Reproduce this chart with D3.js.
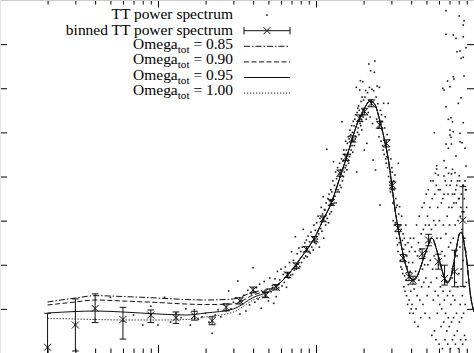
<!DOCTYPE html>
<html>
<head>
<meta charset="utf-8">
<script src="https://cdn.jsdelivr.net/npm/d3@7"></script>
<style>
body { margin: 0; background: #fff; }
svg { display: block; }
</style>
</head>
<body>
<script>
var w = 474;
var h = 353;

// model curves at low l, one per Omega_tot (they meet the common tail at l=60)
var modelLowL = [2, 3, 4, 6, 10, 15, 20, 30, 40, 50];
var om085Low = [1156, 1246, 1299, 1280, 1246, 1212, 1201, 1224, 1380, 1450];
var om090Low = [1088, 1156, 1201, 1178, 1144, 1110, 1099, 1110, 1314, 1428];
var om095Low = [906, 940, 952, 929, 884, 861, 906, 997, 1258, 1394];
var om100Low = [782, 771, 759, 748, 748, 759, 816, 929, 1201, 1360];
// common part of the four models
var tailL = [60, 70, 80, 90, 100, 110, 125, 140, 160, 180,
             200, 220, 235, 250, 270, 290, 300, 310, 320, 330,
             340, 360, 380, 400, 420, 440, 460, 480, 500, 520,
             535, 550, 560, 580, 600, 620, 640, 660, 680, 700,
             720, 740, 760, 780, 800, 815, 830, 850, 870, 900,
             920, 940, 960, 980, 1000];
var tailV = [1609, 1870, 2153, 2402, 2674, 2992, 3399, 3921, 4555, 5144,
             5507, 5711, 5643, 5348, 4860, 4280, 3880, 3480, 3130, 2850,
             2600, 2150, 1860, 1680, 1660, 1768, 1950, 2153, 2330, 2493,
             2600, 2590, 2516, 2340, 2153, 1950, 1768, 1650, 1586, 1650,
             1768, 2000, 2221, 2440, 2652, 2720, 2742, 2650, 2448, 2100,
             1768, 1450, 1201, 1050, 929];
var omegaLabels = ["0.85", "0.90", "0.95", "1.00"];

// binned TT spectrum
var binL = [2, 3, 4, 6, 9, 13, 17, 22, 27, 33, 40, 48, 56, 66, 75, 87, 98, 111, 125, 142,
            155, 170, 189, 203, 224, 253, 279, 305, 331, 356, 388, 411, 470, 516, 594, 651, 753, 850];
var binV = [130, 635, 1010, 760, 860, 800, 845, 730, 1035, 1180, 1430, 1315, 1490, 1770, 1980, 2350, 2580, 3040, 3410, 4075,
            4435, 4850, 5320, 5470, 5660, 5170, 4750, 3800, 2830, 2150, 1730, 1650, 2250, 2560, 2070, 1690, 1840, 3010];
var binLo = [-700, 45, 690, 315, 690, 670, 745, 640, 955, 1110, 1365, 1255, 1430, 1710, 1920, 2290, 2520, 2975, 3345, 4005,
             4365, 4780, 5245, 5395, 5580, 5090, 4670, 3720, 2750, 2070, 1640, 1560, 2140, 2430, 1900, 1540, 1500, 1510];
var binHi = [900, 1225, 1340, 1035, 975, 930, 945, 820, 1115, 1250, 1495, 1375, 1550, 1830, 2040, 2410, 2640, 3105, 3475, 4145,
             4505, 4920, 5395, 5545, 5740, 5250, 4830, 3880, 2910, 2230, 1820, 1740, 2360, 2690, 2240, 1990, 2330, 3770];

// unbinned TT power spectrum
// l = 2..100
var ttLowVals = [130, 635, 760, 1260, 720, 860, 634, 1060, 634, 1262, 700, 900, 800, 1000, 634, 980, 760, 820, 900, 700,
  446, 860, 980, 820, 1100, 960, 1405, 1000, 1150,
  1250, 1632, 880, 1180, 1310, 950, 1420, 1090, 1340, 1933, 1150, 1480, 1220, 1560, 1013, 1390, 1620, 1270, 1450, 1180,
  1700, 1390, 1530, 1126, 1680, 1276, 1850, 1480, 1654, 1900, 1520, 1780, 1600, 1950, 1489, 1820, 1700, 2050, 1761, 2295,
  1780, 2100, 1880, 2635, 1900, 2250, 2010, 2380, 1960, 2300, 2050, 2400, 2803, 2150, 2500, 2200, 2560, 2180, 2650, 2300,
  2520, 2260, 2740, 2400, 2620, 2334, 2900, 2500, 2780, 2480];
// l = 101..200
var ttMidVals = [2950, 2580, 3100, 2700, 2400, 3050, 2820, 3300, 2760, 3150,
  3542, 2600, 3250, 3240, 2900, 3400, 4616, 3050, 3500, 2950,
  3600, 3150, 3450, 3700, 3200, 3650, 3380, 3900, 4335, 3400,
  3800, 3550, 4100, 3400, 3950, 3650, 4200, 3700, 4050, 3650,
  4300, 3800, 4150, 3750, 4400, 5241, 3900, 4350, 4000, 4600,
  4100, 4500, 4200, 4800, 4250, 4600, 4150, 4750, 4350, 4900,
  4300, 4850, 4450, 5050, 4500, 4950, 4600, 5150, 4700, 5000,
  4550, 5250, 4800, 5150, 4700, 5300, 4850, 5400, 4900, 6021,
  4100, 5450, 5000, 5550, 5100, 5600, 4950, 5500, 5960, 5200,
  6170, 5150, 5700, 5300, 5053, 5800, 5400, 6148, 5350, 5733];
// l = 202..400, every second l
var ttPeakVals = [4600, 5800, 5950, 5300, 4752, 5900, 5450, 6549, 6021, 5350,
  6397, 5700, 5976, 5200, 4373, 5944, 6361, 6617, 4147, 5800,
  5300, 6050, 5650, 5100, 4900, 6021, 3354, 5500, 4800, 5400,
  5250, 4700, 4600, 5658, 4500, 5100, 5354, 4400, 4300, 4448,
  4950, 4200, 5658, 4000, 4600, 4827, 3800, 3650, 4400, 3700,
  4200, 4100, 3400, 3000, 3900, 3700, 2900, 4033, 2950, 3500,
  3300, 2600, 3350, 2450, 2300, 4298, 3150, 2500, 3315, 2900,
  2100, 1950, 2800, 3100, 1900, 2550, 1800, 2700, 2350, 1500,
  2600, 1750, 1400, 2450, 2900, 1650, 1300, 2200, 1950, 1100,
  2500, 1550, 2050, 1200, 2300, 900, 1850, 2600, 1400, 1000];
// l = 403..898, every third l
var ttHighVals = [2400, 1100, 2050, 900, 2600, 1450, 700, 2300, 1850, 1000,
  2900, 1300, 2200, 600, 2500, 1650, 3100, 1200, 2350, 800,
  2700, 1500, 3300, 1900, 1100, 2800, 1600, 3400, 2000, 900,
  2900, 1700, 3600, 2300, 1300, 3100, 2000, 3700, 1500, 2900,
  800, 3300, 2100, 3900, 1600, 2800, 400, 3500, 1900, 3900,
  1200, 3000, 2200, 500, 3600, 1400, 2900, 300, 3800, 1700,
  2600, 900, 3300, 1300, 3700, 2000, 200, 3000, 1100, 3700,
  1500, 2600, 600, 3400, 1000, 2300, 100, 3500, 1400, 2900,
  700, 3600, 1200, 2200, 300, 3900, 900, 2700, 1600, 3800,
  500, 3100, 1300, 200, 3600, 800, 2400, 3300, 600, 2900,
  1400, 3800, 100, 2500, 1100, 3900, 700, 3300, 1700, 300,
  3600, 1300, 2600, 800, 3400, 1900, 400, 3600, 1200, 2900,
  200, 3700, 1600, 3400, 900, 3800, 2200, 500, 3900, 1500,
  3000, 100, 3500, 1800, 3500, 700, 3900, 2400, 1100, 3100,
  300, 3300, 1900, 3600, 800, 2800, 3200, 1300, 200, 3800,
  2100, 3800, 900, 3200, 1500, 3500, 400, 2600, 3900, 1100,
  3700, 300, 2300, 3700, 1600, 3300];
// high scattered points at large l, [l, value]
var ttOutliers = [[665, 7757], [807, 7637], [865, 7530], [855, 7433], [665, 7222], [739, 7206], [769, 7131], [855, 7168],
  [890, 6918], [780, 6828], [815, 6843], [828, 6678], [855, 6701], [739, 6261], [747, 6209], [865, 6277], [680, 6164],
  [634, 5998], [646, 5960], [704, 6034], [828, 5785], [796, 5658], [665, 5581], [715, 5332], [688, 5296], [731, 5241],
  [855, 5219], [561, 4992], [704, 5053], [739, 5015], [704, 4940], [715, 4888], [815, 4978], [665, 4736], [720, 4736],
  [815, 4788], [840, 4765], [688, 4639], [877, 4639], [769, 4464], [646, 4358], [580, 4244], [890, 4237], [580, 4169],
  [665, 4199], [731, 4163], [570, 4072], [594, 4033], [646, 4011], [690, 4072], [720, 4056], [758, 4086], [807, 4018]];

var xMajor = [1, 10, 100, 1000];
var xMinor = [2, 3, 4, 5, 6, 7, 8, 9, 20, 30, 40, 50, 60, 70, 80, 90, 200, 300, 400, 500, 600, 700, 800, 900];
var yTicks = [0, 1000, 2000, 3000, 4000, 5000, 6000, 7000, 8000];

var xScale = d3.scaleLog().domain([1, 1000]).range([0, w]);
var yScale = d3.scaleLinear().domain([0, 8000]).range([h, 0]);

var svg = d3.select("body").append("svg")
    .attr("width", w)
    .attr("height", h);

svg.append("clipPath").attr("id", "clip")
    .append("rect").attr("width", w).attr("height", h);

var plot = svg.append("g").attr("clip-path", "url(#clip)");

//dots
var dots = [];
ttLowVals.forEach(function(v, i) { dots.push([2 + i, v]); });
ttMidVals.forEach(function(v, i) { dots.push([101 + i, v]); });
ttPeakVals.forEach(function(v, i) { dots.push([202 + 2 * i, v]); });
ttHighVals.forEach(function(v, i) { dots.push([403 + 3 * i, v]); });
ttOutliers.forEach(function(d) { dots.push(d); });

plot.selectAll("rect.dot")
    .data(dots)
    .enter()
    .append("rect")
    .attr("class", "dot")
    .attr("x", function(d) { return xScale(d[0]) - 0.8; })
    .attr("y", function(d) { return yScale(d[1]) - 0.8; })
    .attr("width", 1.6)
    .attr("height", 1.6)
    .attr("fill", "#1a1a1a");

//model lines
var models = [om085Low, om090Low, om095Low, om100Low].map(function(low) {
    var pts = modelLowL.map(function(l, i) { return [l, low[i]]; });
    return pts.concat(tailL.map(function(l, i) { return [l, tailV[i]]; }));
});
var dashes = ["6,2,1.5,2", "5,2.5", null, "1.2,1.8"];

var line = d3.line()
    .x(function(d) { return xScale(d[0]); })
    .y(function(d) { return yScale(d[1]); })
    .curve(d3.curveMonotoneX);

models.forEach(function(m, i) {
    plot.append("path")
        .datum(m)
        .attr("d", line)
        .attr("fill", "none")
        .attr("stroke", "#111")
        .attr("stroke-width", 1)
        .attr("stroke-dasharray", dashes[i]);
});

//binned points with error bars
var bins = binL.map(function(l, i) { return { l: l, v: binV[i], lo: binLo[i], hi: binHi[i] }; });
var cap = 3.3, xs = 3.5;
var bg = plot.selectAll("g.bin").data(bins).enter().append("g").attr("class", "bin")
    .attr("stroke", "#111").attr("stroke-width", 1).attr("fill", "none");
bg.append("path").attr("d", function(d) {
    var px = xScale(d.l), y0 = yScale(d.lo), y1 = yScale(d.hi);
    return "M" + px + "," + y0 + "V" + y1 +
        "M" + (px - cap) + "," + y1 + "H" + (px + cap) +
        "M" + (px - cap) + "," + y0 + "H" + (px + cap);
});
bg.append("path").attr("d", function(d) {
    var px = xScale(d.l), py = yScale(d.v);
    return "M" + (px - xs) + "," + (py - xs) + "L" + (px + xs) + "," + (py + xs) +
        "M" + (px - xs) + "," + (py + xs) + "L" + (px + xs) + "," + (py - xs);
});

//axes ticks (inward, no labels)
function ticks(axis, vals, size, tx, ty) {
    var g = svg.append("g").attr("transform", "translate(" + tx + "," + ty + ")")
        .call(axis.tickValues(vals).tickSize(size).tickFormat(""));
    g.select(".domain").remove();
    g.selectAll("line").attr("stroke", "#000");
}
ticks(d3.axisTop(xScale), xMajor, 8, 0, h);
ticks(d3.axisTop(xScale), xMinor, 4.5, 0, h);
ticks(d3.axisBottom(xScale), xMajor, 7.5, 0, 0);
ticks(d3.axisBottom(xScale), xMinor, 4.5, 0, 0);
ticks(d3.axisRight(yScale), yTicks, 7, 0, 0);
ticks(d3.axisLeft(yScale), yTicks, 7, w, 0);

svg.append("line").attr("x1", 0).attr("x2", w).attr("y1", 0.5).attr("y2", 0.5)
    .attr("stroke", "#ccc");
svg.append("line").attr("x1", 0.5).attr("x2", 0.5).attr("y1", 0).attr("y2", h)
    .attr("stroke", "#e6e6e6");

//legend (text is a little stretched sideways like in the source picture)
var legX = 233, sx0 = 244, sx1 = 290, legY0 = 15.1, legStep = 15.6, stretch = 1.12;
var leg = svg.append("g")
    .attr("font-family", "'Liberation Serif', 'Times New Roman', serif")
    .attr("font-size", "13.8px")
    .attr("fill", "#000");

function legText(yy) {
    return leg.append("text")
        .attr("transform", "translate(" + legX + "," + yy + ") scale(" + stretch + ",1)")
        .attr("text-anchor", "end")
        .style("white-space", "pre");
}

legText(legY0 + 4).text("TT power spectrum");
leg.append("rect").attr("x", (sx0 + sx1) / 2 - 0.8).attr("y", legY0 - 0.8)
    .attr("width", 1.6).attr("height", 1.6).attr("fill", "#1a1a1a");

var ly = legY0 + legStep;
legText(ly + 4).text("binned TT power spectrum");
var mx = (sx0 + sx1) / 2;
leg.append("path")
    .attr("d", "M" + sx0 + "," + ly + "H" + sx1 +
        "M" + sx0 + "," + (ly - 3.7) + "V" + (ly + 3.7) +
        "M" + sx1 + "," + (ly - 3.7) + "V" + (ly + 3.7) +
        "M" + (mx - xs) + "," + (ly - xs) + "L" + (mx + xs) + "," + (ly + xs) +
        "M" + (mx - xs) + "," + (ly + xs) + "L" + (mx + xs) + "," + (ly - xs))
    .attr("stroke", "#111").attr("fill", "none");

omegaLabels.forEach(function(lab, i) {
    var yy = legY0 + legStep * (i + 2);
    var t = legText(yy + 2.2);
    t.append("tspan").text("Omega");
    t.append("tspan").attr("dy", 4).attr("font-size", "10px").text("tot");
    t.append("tspan").attr("dy", -4).text(" = " + lab);
    leg.append("line")
        .attr("x1", sx0).attr("x2", sx1).attr("y1", yy).attr("y2", yy)
        .attr("stroke", "#111")
        .attr("stroke-dasharray", dashes[i]);
});
</script>
</body>
</html>
